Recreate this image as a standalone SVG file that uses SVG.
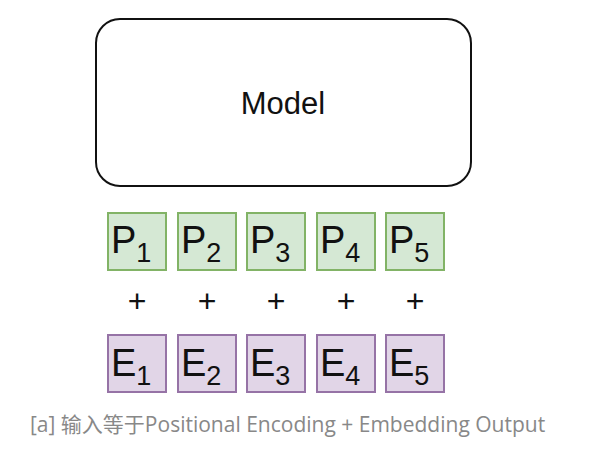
<svg xmlns="http://www.w3.org/2000/svg" width="600" height="461" viewBox="0 0 600 461">
<style>
text{font-family:"Liberation Sans",Arial,sans-serif;fill:#111}
.p{fill:#d5e8d4;stroke:#82b366;stroke-width:2}
.e{fill:#e1d5e7;stroke:#9673a6;stroke-width:2}
.l{font-size:38px}
.s{font-size:27px}
.plus{font-size:32px;text-anchor:middle}
</style>
<rect width="600" height="461" fill="#fff"/>
<g id="model"><rect x="96" y="19" width="375" height="167" rx="24" fill="#fff" stroke="#111" stroke-width="2"/>
<text x="283" y="114" font-size="31" text-anchor="middle">Model</text></g>
<g id="P1"><rect class="p" x="108" y="213" width="58" height="57"/><text class="l" x="111" y="253">P<tspan class="s" dy="9">1</tspan></text></g>
<g id="P2"><rect class="p" x="178" y="213" width="58" height="57"/><text class="l" x="181" y="253">P<tspan class="s" dy="9">2</tspan></text></g>
<g id="P3"><rect class="p" x="247" y="213" width="58" height="57"/><text class="l" x="250" y="253">P<tspan class="s" dy="9">3</tspan></text></g>
<g id="P4"><rect class="p" x="317" y="213" width="58" height="57"/><text class="l" x="320" y="253">P<tspan class="s" dy="9">4</tspan></text></g>
<g id="P5"><rect class="p" x="386" y="213" width="58" height="57"/><text class="l" x="389" y="253">P<tspan class="s" dy="9">5</tspan></text></g>
<g id="plus">
<text class="plus" x="137" y="312">+</text><text class="plus" x="207" y="312">+</text><text class="plus" x="276" y="312">+</text><text class="plus" x="346" y="312">+</text><text class="plus" x="415" y="312">+</text>
</g>
<g id="E1"><rect class="e" x="108" y="335" width="58" height="57"/><text class="l" x="111" y="376">E<tspan class="s" dy="9">1</tspan></text></g>
<g id="E2"><rect class="e" x="178" y="335" width="58" height="57"/><text class="l" x="181" y="376">E<tspan class="s" dy="9">2</tspan></text></g>
<g id="E3"><rect class="e" x="247" y="335" width="58" height="57"/><text class="l" x="250" y="376">E<tspan class="s" dy="9">3</tspan></text></g>
<g id="E4"><rect class="e" x="317" y="335" width="58" height="57"/><text class="l" x="320" y="376">E<tspan class="s" dy="9">4</tspan></text></g>
<g id="E5"><rect class="e" x="386" y="335" width="58" height="57"/><text class="l" x="389" y="376">E<tspan class="s" dy="9">5</tspan></text></g>
<text x="30" y="432" font-size="21" style="fill:#888;font-family:'Open Sans','Noto Sans CJK SC',sans-serif">[a] 输入等于Positional Encoding + Embedding Output</text>
</svg>
